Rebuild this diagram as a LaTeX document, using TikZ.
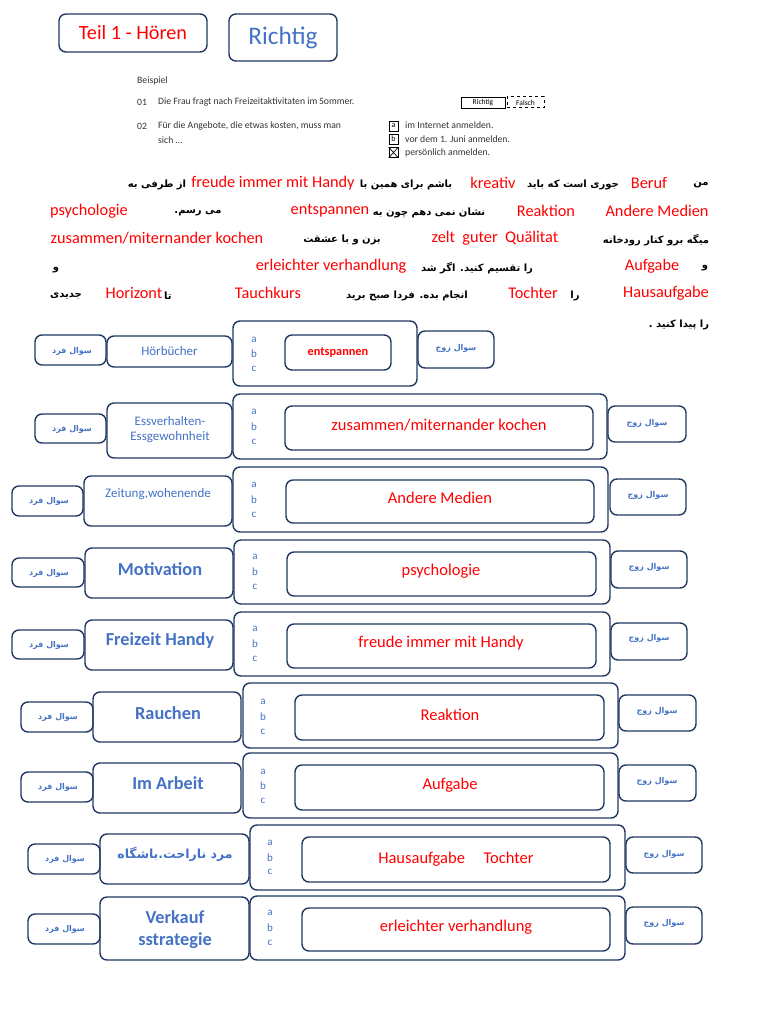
\documentclass[tikz,border=0pt]{standalone}
\usepackage{fontspec}
\setmainfont{Carlito}
\newfontfamily\fa[Script=Arabic]{DejaVu Sans}
\TeXXeTstate=1
\definecolor{navy}{HTML}{1F3864}
\definecolor{tblue}{HTML}{4472C4}
\definecolor{tred}{HTML}{FF0000}
\definecolor{scan}{HTML}{333333}
\tikzset{
  bx/.style={draw=navy, line width=1.4pt, rounded corners=7pt, inner sep=0pt},
  sbx/.style={draw=black, line width=0.6pt, inner sep=0pt},
  tx/.style={inner sep=0pt},
  redp/.style={tx, text=tred, font=\fontsize{16.3}{19}\selectfont},
  fap/.style={tx, text=black, font=\fa\bfseries\fontsize{10}{12}\selectfont},
  fab/.style={tx, text=tblue, font=\fa\bfseries\fontsize{8}{10}\selectfont},
  abc/.style={tx, text=tblue, font=\fontsize{11}{12}\selectfont},
  ans/.style={tx, text=tred, font=\fontsize{16.5}{19}\selectfont},
  lab/.style={tx, text=tblue, font=\fontsize{13}{15}\selectfont},
  blab/.style={tx, text=tblue, font=\bfseries\fontsize{18.3}{21}\selectfont},
  scn/.style={tx, anchor=west, text=scan, font=\fontsize{9.7}{11}\selectfont},
}
\newcommand\bx[6][]{%
  \node[bx,#1,minimum width={(#5-#3)*1pt},minimum height={(#6-#4)*1pt}] (#2) at ({(#3+#5)/2},{(#4+#6)/2}) {};}
\newcommand\fr[1]{\beginR #1\endR}
\begin{document}
\begin{tikzpicture}[x=1pt,y=-1pt]
\useasboundingbox[fill=white] (0,0) rectangle (768,1024);
% header
\bx{teil}{59}{14}{207}{52}
\node[tx,text=tred,font=\fontsize{20.2}{23}\selectfont] (teilt) at (teil.center) {Teil 1 - Hören};
\bx{rich}{229}{14}{337}{61}
\node[tx,text=tblue,font=\fontsize{25.3}{29}\selectfont] (richt) at (rich.center) {Richtig};
% Beispiel
\node[scn] (bsp) at (137,81) {Beispiel};
\node[scn] (n01) at (137,102) {01};
\node[scn] (s01) at (158,102) {Die Frau fragt nach Freizeitaktivitaten im Sommer.};
\node[sbx,minimum width=44pt,minimum height=11pt,font=\fontsize{7.5}{8}\selectfont] (rb) at (483,102.5) {Richtig};
\node[sbx,line width=1pt,dashed,minimum width=37pt,minimum height=11pt,font=\fontsize{7.5}{8}\selectfont] (fb) at (525.5,102.5) {Falsch};
\node[scn] (n02) at (137,126) {02};
\node[scn] (s02) at (158,126) {Für die Angebote, die etwas kosten, muss man};
\node[scn] (s02b) at (158,140) {sich \dots};
\node[sbx,minimum width=9pt,minimum height=10pt,font=\fontsize{8}{8}\selectfont] (cka) at (393.5,126) {a};
\node[sbx,minimum width=9pt,minimum height=10pt,font=\fontsize{8}{8}\selectfont] (ckb) at (393.5,139) {b};
\node[sbx,minimum width=9pt,minimum height=10pt] (ckc) at (393.5,152.5) {};
\draw[line width=0.7pt] (ckc.north west) -- (ckc.south east) (ckc.north east) -- (ckc.south west);
\node[scn] (oa) at (405,125) {im Internet anmelden.};
\node[scn] (ob) at (405,139) {vor dem 1. Juni anmelden.};
\node[scn] (oc) at (405,153) {persönlich anmelden.};
% paragraph line 1
\node[fap] (p11) at (701,185) {\fr{من}};
\node[redp] (p12) at (649,183) {Beruf};
\node[fap] (p13) at (573,185) {\fr{جوری است که باید}};
\node[redp] (p14) at (493,183) {kreativ};
\node[fap] (p15) at (406,185) {\fr{باشم برای همین با}};
\node[redp] (p16) at (273,183) {freude immer mit Handy};
\node[fap] (p17) at (157,185) {\fr{از طرفی به}};
% line 2
\node[redp] (p21) at (657,211) {Andere Medien};
\node[redp] (p22) at (546,211) {Reaktion};
\node[fap] (p23) at (429,213) {\fr{نشان نمی دهم چون به}};
\node[redp] (p24) at (330,211) {entspannen};
\node[fap] (p25) at (198,213) {\fr{می رسم.}};
\node[redp] (p26) at (89,211) {psychologie};
% line 3
\node[fap] (p31) at (656,240) {\fr{میگه برو کنار رودخانه}};
\node[redp] (p32) at (495,238) {zelt\ \ guter\ \ Quälitat};
\node[fap] (p33) at (342,240) {\fr{بزن و با عشقت}};
\node[redp] (p34) at (157,238) {zusammen/miternander kochen};
% line 4
\node[fap] (p41) at (705,268) {\fr{و}};
\node[redp] (p42) at (652,266) {Aufgabe};
\node[fap] (p43) at (477,268) {\fr{را تقسیم کنید. اگر شد}};
\node[redp] (p44) at (331,266) {erleichter verhandlung};
\node[fap] (p45) at (56,270) {\fr{و}};
% line 5
\node[redp] (p51) at (666,293) {Hausaufgabe};
\node[fap] (p52) at (575,296) {\fr{را}};
\node[redp] (p53) at (533,293) {Tochter};
\node[fap] (p54) at (407,296) {\fr{انجام بده. فردا صبح برید}};
\node[redp] (p55) at (268,293) {Tauchkurs};
\node[redp] (p56) at (134,293) {Horizont};
\node[fap] (p57) at (168,296) {\fr{تا}};
\node[fap] (p58) at (66,296) {\fr{جدیدی}};
% line 6
\node[fap] (p61) at (679,325) {\fr{را پیدا کنید .}};
% ---------- row 1
\bx{l1}{35}{335}{106}{365}
\node[fab] (l1t) at (72,351) {\fr{سوال فرد}};
\bx{m1}{107}{336}{232}{367}
\node[lab] (m1t) at (m1.center) {Hörbücher};
\bx{c1}{233}{321}{417}{386}
\node[abc] (a1a) at (254,340) {a};
\node[abc] (a1b) at (254,354) {b};
\node[abc] (a1c) at (254,369) {c};
\bx{a1}{285}{335}{391}{370}
\node[tx,text=tred,font=\bfseries\fontsize{12.3}{14}\selectfont] (a1t) at (a1.center) {entspannen};
\bx{r1}{418}{331}{494}{368}
\node[fab] (r1t) at (456,348) {\fr{سوال زوج}};
% ---------- row 2
\bx{l2}{35}{414}{106}{443}
\node[fab] (l2t) at (72,429) {\fr{سوال فرد}};
\bx{m2}{107}{403}{232}{458}
\node[lab] (m2t) at (170,421) {Essverhalten-};
\node[lab] (m2u) at (170,437) {Essgewohnheit};
\bx{c2}{233}{394}{607}{459}
\node[abc] (a2a) at (254,412) {a};
\node[abc] (a2b) at (254,427) {b};
\node[abc] (a2c) at (254,442) {c};
\bx{a2}{285}{406}{593}{450}
\node[ans] (a2t) at (439,425) {zusammen/miternander kochen};
\bx{r2}{608}{406}{686}{442}
\node[fab] (r2t) at (647,423) {\fr{سوال زوج}};
% ---------- row 3
\bx{l3}{12}{486}{83}{516}
\node[fab] (l3t) at (49,501) {\fr{سوال فرد}};
\bx{m3}{84}{476}{232}{526}
\node[lab] (m3t) at (158,494) {Zeitung,wohenende};
\bx{c3}{233}{467}{608}{532}
\node[abc] (a3a) at (254,485) {a};
\node[abc] (a3b) at (254,500) {b};
\node[abc] (a3c) at (254,515) {c};
\bx{a3}{286}{480}{594}{523}
\node[ans] (a3t) at (440,498) {Andere Medien};
\bx{r3}{610}{479}{686}{515}
\node[fab] (r3t) at (648,495) {\fr{سوال زوج}};
% ---------- row 4
\bx{l4}{12}{558}{84}{587}
\node[fab] (l4t) at (49,573) {\fr{سوال فرد}};
\bx{m4}{85}{548}{233}{598}
\node[blab] (m4t) at (160,569) {Motivation};
\bx{c4}{234}{540}{610}{604}
\node[abc] (a4a) at (255,557) {a};
\node[abc] (a4b) at (255,572) {b};
\node[abc] (a4c) at (255,587) {c};
\bx{a4}{287}{552}{596}{596}
\node[ans] (a4t) at (441,571) {psychologie};
\bx{r4}{611}{551}{687}{588}
\node[fab] (r4t) at (649,567) {\fr{سوال زوج}};
% ---------- row 5
\bx{l5}{12}{630}{84}{659}
\node[fab] (l5t) at (49,645) {\fr{سوال فرد}};
\bx{m5}{85}{620}{233}{670}
\node[blab] (m5t) at (160,641) {Freizeit Handy};
\bx{c5}{234}{612}{610}{676}
\node[abc] (a5a) at (255,629) {a};
\node[abc] (a5b) at (255,644) {b};
\node[abc] (a5c) at (255,659) {c};
\bx{a5}{287}{624}{596}{668}
\node[ans] (a5t) at (441,643) {freude immer mit Handy};
\bx{r5}{611}{623}{687}{660}
\node[fab] (r5t) at (649,638) {\fr{سوال زوج}};
% ---------- row 6
\bx{l6}{21}{702}{93}{732}
\node[fab] (l6t) at (58,717) {\fr{سوال فرد}};
\bx{m6}{93}{692}{241}{742}
\node[blab] (m6t) at (168,713) {Rauchen};
\bx{c6}{243}{683}{618}{748}
\node[abc] (a6a) at (263,702) {a};
\node[abc] (a6b) at (263,717) {b};
\node[abc] (a6c) at (263,732) {c};
\bx{a6}{295}{695}{604}{740}
\node[ans] (a6t) at (450,715) {Reaktion};
\bx{r6}{619}{695}{696}{731}
\node[fab] (r6t) at (657,711) {\fr{سوال زوج}};
% ---------- row 7
\bx{l7}{21}{772}{93}{802}
\node[fab] (l7t) at (58,787) {\fr{سوال فرد}};
\bx{m7}{93}{763}{241}{813}
\node[blab] (m7t) at (168,783) {Im Arbeit};
\bx{c7}{243}{753}{618}{818}
\node[abc] (a7a) at (263,772) {a};
\node[abc] (a7b) at (263,786) {b};
\node[abc] (a7c) at (263,801) {c};
\bx{a7}{295}{765}{604}{810}
\node[ans] (a7t) at (450,785) {Aufgabe};
\bx{r7}{619}{765}{696}{801}
\node[fab] (r7t) at (657,781) {\fr{سوال زوج}};
% ---------- row 8
\bx{l8}{28}{844}{100}{874}
\node[fab] (l8t) at (65,859) {\fr{سوال فرد}};
\bx{m8}{100}{834}{249}{884}
\node[tx,text=tblue,font=\fa\bfseries\fontsize{12.5}{14}\selectfont] (m8t) at (175,854) {\fr{مرد ناراحت.باشگاه}};
\bx{c8}{250}{825}{625}{890}
\node[abc] (a8a) at (270,843) {a};
\node[abc] (a8b) at (270,858) {b};
\node[abc] (a8c) at (270,872) {c};
\bx{a8}{302}{837}{610}{882}
\node[ans] (a8t) at (456,859) {Hausaufgabe\ \ \ \ \ Tochter};
\bx{r8}{626}{837}{702}{873}
\node[fab] (r8t) at (664,854) {\fr{سوال زوج}};
% ---------- row 9
\bx{l9}{28}{914}{100}{944}
\node[fab] (l9t) at (65,929) {\fr{سوال فرد}};
\bx{m9}{100}{897}{249}{960}
\node[blab] (m9t) at (175,917) {Verkauf};
\node[blab] (m9u) at (175,941) {sstrategie};
\bx{c9}{250}{896}{625}{960}
\node[abc] (a9a) at (270,913) {a};
\node[abc] (a9b) at (270,928) {b};
\node[abc] (a9c) at (270,943) {c};
\bx{a9}{302}{908}{610}{951}
\node[ans] (a9t) at (456,927) {erleichter verhandlung};
\bx{r9}{626}{907}{702}{944}
\node[fab] (r9t) at (664,923) {\fr{سوال زوج}};
\end{tikzpicture}
\end{document}
